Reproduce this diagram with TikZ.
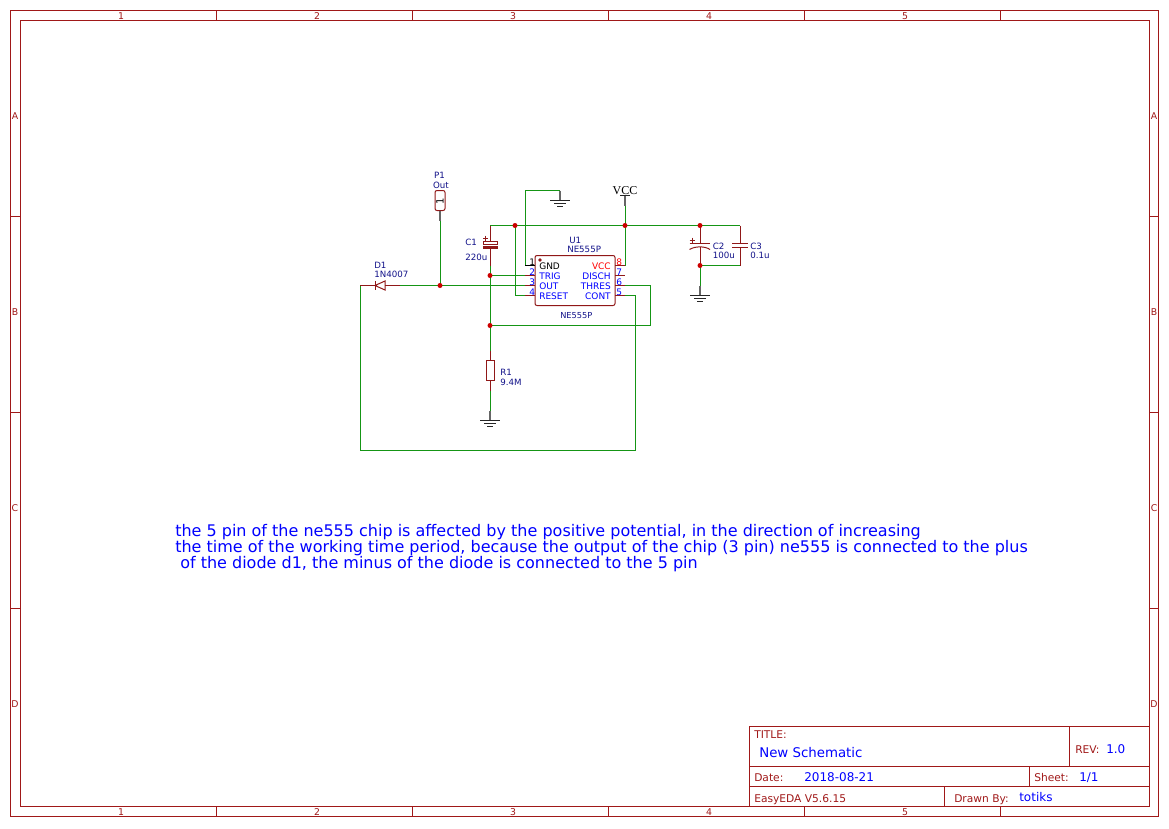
\documentclass[tikz,border=0pt]{standalone}
\usepackage{fontspec}
\setmainfont{DejaVu Sans}
\newfontfamily\vccfont{Liberation Serif}
\definecolor{frame}{HTML}{A01818}
\definecolor{wirec}{HTML}{159515}
\definecolor{navyt}{HTML}{101088}
\definecolor{bluet}{HTML}{0000FF}
\definecolor{dotc}{HTML}{CC0000}
\definecolor{pinc}{HTML}{901818}
\definecolor{stemc}{HTML}{666666}
\tikzset{
  frameln/.style={draw=frame,line width=0.75pt},
  wire/.style={draw=wirec,line width=0.75pt},
  pinln/.style={draw=pinc,line width=0.75pt},
  stem/.style={draw=stemc,line width=0.9pt},
  gnd/.style={draw=black!85,line width=0.75pt},
  dot/.style={circle,fill=dotc,inner sep=0pt,minimum size=3.75pt},
  lab/.style={inner sep=0pt,anchor=base west,font=\fontsize{6.75pt}{7pt}\selectfont},
  navy/.style={lab,text=navyt,font=\fontsize{6.5pt}{7pt}\selectfont},
  pinb/.style={lab,text=bluet},
  tick/.style={inner sep=0pt,anchor=base,text=frame,font=\fontsize{7pt}{7pt}\selectfont},
  tbl/.style={inner sep=0pt,anchor=base west,text=frame,font=\fontsize{8pt}{8pt}\selectfont},
  tbv/.style={inner sep=0pt,anchor=base west,text=bluet,font=\fontsize{9pt}{10pt}\selectfont},
  note/.style={inner sep=0pt,anchor=base west,text=bluet,font=\fontsize{12pt}{12pt}\selectfont},
}
\begin{document}
\begin{tikzpicture}[x=0.75pt,y=-0.75pt]
\useasboundingbox (0,0) rectangle (1169,828);
% frame
\draw[frameln] (10,10.5) rectangle (1158.7,816.5);
\draw[frameln] (20,20.5) rectangle (1149,806.5);
\foreach \x in {216,412,608,804,1000}{
  \draw[frameln] (\x,10.5) -- (\x,20.5);
  \draw[frameln] (\x,806.5) -- (\x,816.5);
}
\foreach \y in {216.5,412.5,608.5}{
  \draw[frameln] (10,\y) -- (20,\y);
  \draw[frameln] (1149,\y) -- (1158.7,\y);
}
\foreach \x/\t in {121/1,317/2,513/3,709/4,905/5}{
  \node[tick] (top\t) at (\x,19) {\t};
  \node[tick] (bot\t) at (\x,815) {\t};
}
\foreach \y/\t in {119/A,315/B,511/C,707/D}{
  \node[tick] (lft\t) at (15,\y) {\t};
  \node[tick] (rgt\t) at (1154,\y) {\t};
}
% title block
\draw[frameln] (749,726.5) rectangle (1149,806.5);
\draw[frameln] (749,766.5) -- (1149,766.5);
\draw[frameln] (749,786.5) -- (1149,786.5);
\draw[frameln] (1069,726.5) -- (1069,766.5);
\draw[frameln] (1029,766.5) -- (1029,786.5);
\draw[frameln] (944,786.5) -- (944,806.5);
\node[tbl] (ttitle) at (754,738) {TITLE:};
\node[tbv,font=\fontsize{10pt}{11pt}\selectfont] (vtitle) at (759,757) {New Schematic};
\node[tbl] (trev) at (1075,753) {REV:};
\node[tbv] (vrev) at (1106,753) {1.0};
\node[tbl] (tdate) at (754,781.5) {Date:};
\node[tbv] (vdate) at (804,781) {2018-08-21};
\node[tbl] (tsheet) at (1034,781.5) {Sheet:};
\node[tbv] (vsheet) at (1079,781) {1/1};
\node[tbl] (teda) at (754,802) {EasyEDA V5.6.15};
\node[tbl] (tdrawn) at (954,802) {Drawn By:};
\node[tbv] (vdrawn) at (1019,801) {totiks};
% coordinates
\coordinate (dl) at (360,285.5);
\coordinate (dleft) at (375,285.5);
\coordinate (dright) at (385,285.5);
\coordinate (dpin) at (400,285.5);
\coordinate (jout) at (440,285.5);
\coordinate (p1a) at (440,210.5);
\coordinate (p1b) at (440,220.5);
\coordinate (pin3) at (525,285.5);
\coordinate (pin2) at (525,275.5);
\coordinate (pin1) at (525,265.5);
\coordinate (pin4) at (525,295.5);
\coordinate (pin8) at (625,265.5);
\coordinate (pin7) at (625,275.5);
\coordinate (pin6) at (625,285.5);
\coordinate (pin5) at (625,295.5);
\coordinate (gndt) at (525,190.5);
\coordinate (gnda) at (560,190.5);
\coordinate (gndb) at (560,200.5);
\coordinate (jc) at (490,225.5);
\coordinate (jr) at (515,225.5);
\coordinate (jv) at (625,225.5);
\coordinate (jc2) at (700,225.5);
\coordinate (c3t) at (740,225.5);
\coordinate (jc2b) at (700,265.5);
\coordinate (c3b) at (740,265.5);
\coordinate (vccs) at (625,205.5);
\coordinate (vccb) at (625,195.5);
\coordinate (c1b) at (490,265.5);
\coordinate (jtrig) at (490,275.5);
\coordinate (jthr) at (490,325.5);
\coordinate (r1t) at (490,350.5);
\coordinate (r1b) at (490,390.5);
\coordinate (r1w) at (490,410.5);
\coordinate (g3) at (490,420.5);
\coordinate (rst) at (515,295.5);
\coordinate (thr) at (650,285.5);
\coordinate (thrb) at (650,325.5);
\coordinate (cnt) at (635,295.5);
\coordinate (cntb) at (635,450.5);
\coordinate (fbl) at (360,450.5);
\coordinate (g2a) at (700,285.5);
\coordinate (g2b) at (700,295.5);
% wires
\draw[wire] (dpin) -- (pin3);
\draw[wire] (p1b) -- (jout);
\draw[wire] (pin1) -- (gndt) -- (gnda);
\draw[wire] (jc) -- (c3t);
\draw[wire] (vccs) -- (pin8);
\draw[wire] (jr) -- (rst) -- (pin4);
\draw[wire] (jtrig) -- (pin2);
\draw[wire] (c1b) -- (r1t);
\draw[wire] (r1b) -- (r1w);
\draw[wire] (pin6) -- (thr) -- (thrb) -- (jthr);
\draw[wire] (pin5) -- (cnt) -- (cntb) -- (fbl) -- (dl);
\draw[wire] (jc2b) -- (g2a);
\draw[wire] (jc2b) -- (c3b);
% ground stems
\draw[stem] (gnda) -- (gndb);
\draw[stem] (r1w) -- (g3);
\draw[stem] (g2a) -- (g2b);
\foreach \c in {gndb,g3,g2b}{
  \draw[gnd] ([xshift=-7.5pt]\c) -- ([xshift=7.5pt]\c);
  \draw[gnd] ([xshift=-4.5pt,yshift=-2.25pt]\c) -- ([xshift=4.5pt,yshift=-2.25pt]\c);
  \draw[gnd] ([xshift=-2.25pt,yshift=-4.5pt]\c) -- ([xshift=2.25pt,yshift=-4.5pt]\c);
}
% VCC
\draw[stem] (vccb) -- (vccs);
\draw[gnd] ([xshift=-3.75pt]vccb) -- ([xshift=3.75pt]vccb);
\node[inner sep=0pt,anchor=base,font=\vccfont\fontsize{9pt}{10pt}\selectfont] (vcc) at (625,194) {VCC};
% P1
\draw[pinln,rounded corners=1.5pt] (435,190.5) rectangle (445,210.5);
\draw[stem] (p1a) -- (p1b);
\node[inner sep=0pt,rotate=90,font=\fontsize{7.5pt}{8pt}\selectfont] (p1n) at (440,201) {1};
\node[navy,anchor=base] (p1lab) at (439.5,178.5) {P1};
\node[navy,anchor=base] (p1val) at (441,188) {Out};
% diode
\draw[pinln] (dl) -- (dleft);
\draw[pinln] (dright) -- (dpin);
\draw[pinln] (385,281) -- (385,290) -- (375,285.5) -- cycle;
\draw[pinln] (375,281) -- (375,290);
\node[navy] (d1lab) at (374,268) {D1};
\node[navy] (d1val) at (374,277) {1N4007};
% C1
\draw[pinln] (jc) -- (490,241);
\draw[pinln] (490,248.5) -- (c1b);
\draw[pinln,fill=white] (483,241.5) rectangle (497.5,244);
\fill[pinc] (482.5,246) rectangle (498,248.7);
\draw[pinln] (483,238) -- (488,238);
\draw[pinln] (485.5,235.5) -- (485.5,240.5);
\node[navy] (c1lab) at (465,245) {C1};
\node[navy] (c1val) at (465,260) {220u};
% R1
\draw[pinln] (r1t) -- (490,360.5);
\draw[pinln] (490,380.5) -- (r1b);
\draw[pinln] (486,360.5) rectangle (494,380.5);
\node[navy] (r1lab) at (500,375) {R1};
\node[navy] (r1val) at (500,385) {9.4M};
% C2
\draw[pinln] (jc2) -- (700,243.5);
\draw[pinln] (700,247) -- (jc2b);
\draw[pinln] (689.5,243.5) -- (710,243.5);
\draw[pinln] (689.5,249.5) .. controls (695,246) and (705,246) .. (710,249.5);
\draw[pinln] (689.5,240) -- (695,240);
\draw[pinln] (692.2,237.5) -- (692.2,242.5);
\node[navy] (c2lab) at (712.5,249) {C2};
\node[navy] (c2val) at (712.5,258.5) {100u};
% C3
\draw[pinln] (c3t) -- (740,243.5);
\draw[pinln] (740,247.5) -- (c3b);
\draw[pinln] (732,243.5) -- (748,243.5);
\draw[pinln] (732,247.5) -- (748,247.5);
\node[navy] (c3lab) at (750,249) {C3};
\node[navy] (c3val) at (750,258.5) {0.1u};
% U1
\draw[pinln,fill=white,rounded corners=1.5pt] (535,255.5) rectangle (615,305.5);
\draw[pinln,draw=black] (pin1) -- (535,265.5);
\foreach \c/\y in {pin2/275.5,pin3/285.5,pin4/295.5}{\draw[pinln] (\c) -- (535,\y);}
\foreach \c/\y in {pin8/265.5,pin7/275.5,pin6/285.5,pin5/295.5}{\draw[pinln] (615,\y) -- (\c);}
\fill[pinc] (540,260) circle (1.9);
\node[navy] (u1lab) at (569,243) {U1};
\node[navy] (u1val) at (567,252.5) {NE555P};
\node[navy,font=\fontsize{6.2pt}{7pt}\selectfont] (u1sub) at (560,318.5) {NE555P};
\node[lab] (ngnd) at (539,269.5) {GND};
\node[pinb] (ntrig) at (539,279.5) {TRIG};
\node[pinb] (nout) at (539,289.5) {OUT};
\node[pinb] (nrst) at (539,299.5) {RESET};
\node[lab,anchor=base east,text=red] (nvcc) at (611,269.5) {VCC};
\node[pinb,anchor=base east] (ndis) at (611,279.5) {DISCH};
\node[pinb,anchor=base east] (nthr) at (611,289.5) {THRES};
\node[pinb,anchor=base east] (ncnt) at (611,299.5) {CONT};
\node[lab] (n1) at (529,265) {1};
\node[pinb] (n2) at (529,275) {2};
\node[pinb] (n3) at (529,285) {3};
\node[pinb] (n4) at (529,295) {4};
\node[lab,text=red] (n8) at (616,265) {8};
\node[pinb] (n7) at (616,275) {7};
\node[pinb] (n6) at (616,285) {6};
\node[pinb] (n5) at (616,295) {5};
% junctions
\foreach \c in {jout,jr,jv,jc2,jc2b,jtrig,jthr}{\node[dot] (dot\c) at (\c) {};}
% note
\node[note] (note1) at (175,536.5) {the 5 pin of the ne555 chip is affected by the positive potential, in the direction of increasing};
\node[note] (note2) at (175,552.5) {the time of the working time period, because the output of the chip (3 pin) ne555 is connected to the plus};
\node[note] (note3) at (180,568.5) {of the diode d1, the minus of the diode is connected to the 5 pin};
\end{tikzpicture}
\end{document}
